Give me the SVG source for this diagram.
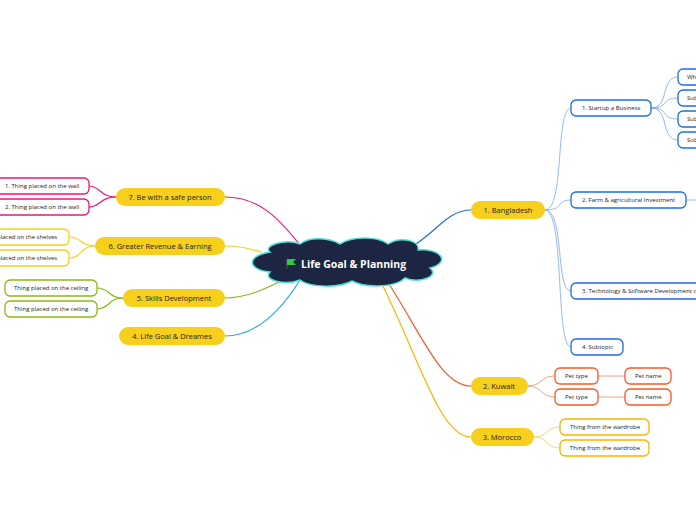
<svg xmlns="http://www.w3.org/2000/svg" width="696" height="520" viewBox="0 0 696 520">
<style>
text{font-family:"Open Sans","DejaVu Sans",sans-serif;fill:#222}
.m{fill:#f7cf1d;stroke:none}
.mt{font-size:7.5px;text-anchor:middle}
.s{fill:#fff;stroke-width:1.3}
.st{font-size:6px}
.c path{fill:none}
</style>
<rect width="696" height="520" fill="#fff"/>
<g class="c">
<g stroke="#1a6fe0" stroke-width="1.2">
<path d="M380 258 C430 250,440 210,471 210"/>
</g>
<g stroke="#7aa7ec" stroke-width="0.8">
<path d="M545 210 C565 210,555 108,571 108"/>
<path d="M545 210 C565 210,555 200,571 200"/>
<path d="M545 210 C565 210,555 291,571 291"/>
<path d="M545 210 C565 210,555 347,571 347"/>
<path d="M651 108 C670 108,660 77,678 77"/>
<path d="M651 108 C670 108,660 98,678 98"/>
<path d="M651 108 C670 108,660 119,678 119"/>
<path d="M651 108 C670 108,660 140,678 140"/>
<path d="M686 200 L696 200"/>
</g>
<g stroke="#f05a28" stroke-width="1.2"><path d="M385 278 C420 330,440 386,471 386"/></g>
<g stroke="#f08a60" stroke-width="0.8"><path d="M528 386 C542 386,540 376,555 376"/><path d="M528 386 C542 386,540 397,555 397"/><path d="M598 376 L625 376"/><path d="M598 397 L625 397"/></g>
<g stroke="#f7b500" stroke-width="1.2"><path d="M380 280 C420 360,440 437,471 437"/></g>
<g stroke="#f7c850" stroke-width="0.8"><path d="M534 437 C548 437,545 427,560 427"/><path d="M534 437 C548 437,545 448,560 448"/></g>
<g stroke="#e6197a" stroke-width="1.2"><path d="M300 245 C280 220,260 197,225 197"/><path d="M116 197 C100 197,100 186,89 186"/><path d="M116 197 C100 197,100 207,89 207"/></g>
<g stroke="#f2d21b" stroke-width="1.2"><path d="M262 252 C245 248,240 246,225 246"/><path d="M95 246 C80 246,82 237,69 237"/><path d="M95 246 C80 246,82 258,69 258"/></g>
<g stroke="#8ab81c" stroke-width="1.2"><path d="M290 276 C265 290,245 298,225 298"/><path d="M123 298 C108 298,110 288,97 288"/><path d="M123 298 C108 298,110 309,97 309"/></g>
<g stroke="#2aa6e8" stroke-width="1.2"><path d="M300 280 C275 320,250 336,225 336"/></g>
</g>
<g id="center">
<path d="M270 252 C262 246,285 238,300 244 C310 236,330 238,340 244 C352 236,378 236,388 244 C400 236,420 240,418 250 C440 248,452 262,430 268 C440 276,420 284,405 278 C395 288,365 288,352 281 C340 288,310 288,300 280 C285 286,262 280,270 272 C248 270,245 256,270 252 Z" fill="#1c2541" stroke="#4fe0d8" stroke-width="1.5"/>
<path d="M287 259 L287 269" stroke="#555" stroke-width="1"/>
<path d="M287 259 L296 259 L293 262 L296 265 L287 265 Z" fill="#2ecc40"/>
<text x="301" y="268" font-size="10.5" font-weight="bold" style="fill:#fff">Life Goal &amp; Planning</text>
</g>
<g id="bangladesh"><rect class="m" x="471" y="201" width="74" height="18" rx="9"/><text class="mt" x="508" y="213">1. Bangladesh</text></g>
<g id="startup"><rect class="s" stroke="#1a6fe0" x="571" y="100" width="80" height="16" rx="5"/><text class="st" x="582" y="110">1. Startup a Business</text></g>
<g id="w1"><rect class="s" stroke="#1a6fe0" x="678" y="69" width="40" height="16" rx="5"/><text class="st" x="687" y="79">What</text></g>
<g id="w2"><rect class="s" stroke="#1a6fe0" x="678" y="90" width="40" height="16" rx="5"/><text class="st" x="687" y="100">Subtopic</text></g>
<g id="w3"><rect class="s" stroke="#1a6fe0" x="678" y="111" width="40" height="16" rx="5"/><text class="st" x="687" y="121">Subtopic</text></g>
<g id="w4"><rect class="s" stroke="#1a6fe0" x="678" y="132" width="40" height="16" rx="5"/><text class="st" x="687" y="142">Subtopic</text></g>
<g id="farm"><rect class="s" stroke="#1a6fe0" x="571" y="192" width="115" height="16" rx="5"/><text class="st" x="582" y="202">2. Farm &amp; agricultural Investment</text></g>
<g id="tech"><rect class="s" stroke="#1a6fe0" x="571" y="283" width="140" height="16" rx="5"/><text class="st" x="582" y="293">3. Technology &amp; Software Development company</text></g>
<g id="sub4"><rect class="s" stroke="#1a6fe0" x="571" y="339" width="52" height="16" rx="5"/><text class="st" x="582" y="349">4. Subtopic</text></g>
<g id="kuwait"><rect class="m" x="471" y="377" width="57" height="18" rx="9"/><text class="mt" x="499" y="389">2. Kuwait</text></g>
<g id="pt1"><rect class="s" stroke="#f05a28" x="555" y="368" width="43" height="16" rx="5"/><text class="st" x="565" y="378">Pet type</text></g>
<g id="pt2"><rect class="s" stroke="#f05a28" x="555" y="389" width="43" height="16" rx="5"/><text class="st" x="565" y="399">Pet type</text></g>
<g id="pn1"><rect class="s" stroke="#f05a28" x="625" y="368" width="46" height="16" rx="5"/><text class="st" x="635" y="378">Pet name</text></g>
<g id="pn2"><rect class="s" stroke="#f05a28" x="625" y="389" width="46" height="16" rx="5"/><text class="st" x="635" y="399">Pet name</text></g>
<g id="morocco"><rect class="m" x="471" y="428" width="63" height="18" rx="9"/><text class="mt" x="502" y="440">3. Morocco</text></g>
<g id="wr1"><rect class="s" stroke="#f7b500" x="560" y="419" width="89" height="16" rx="5"/><text class="st" x="570" y="429">Thing from the wardrobe</text></g>
<g id="wr2"><rect class="s" stroke="#f7b500" x="560" y="440" width="89" height="16" rx="5"/><text class="st" x="570" y="450">Thing from the wardrobe</text></g>
<g id="safe"><rect class="m" x="116" y="188" width="109" height="18" rx="9"/><text class="mt" x="170" y="200">7. Be with a safe person</text></g>
<g id="wall1"><rect class="s" stroke="#e6197a" x="-10" y="178" width="99" height="16" rx="5"/><text class="st" x="5" y="188">1. Thing placed on the wall</text></g>
<g id="wall2"><rect class="s" stroke="#e6197a" x="-10" y="199" width="99" height="16" rx="5"/><text class="st" x="5" y="209">2. Thing placed on the wall</text></g>
<g id="revenue"><rect class="m" x="95" y="237" width="130" height="18" rx="9"/><text class="mt" x="160" y="249">6. Greater Revenue &amp; Earning</text></g>
<g id="sh1"><rect class="s" stroke="#f2d21b" x="-30" y="229" width="99" height="16" rx="5"/><text class="st" x="-20" y="239">Thing placed on the shelves</text></g>
<g id="sh2"><rect class="s" stroke="#f2d21b" x="-30" y="250" width="99" height="16" rx="5"/><text class="st" x="-20" y="260">Thing placed on the shelves</text></g>
<g id="skills"><rect class="m" x="123" y="289" width="102" height="18" rx="9"/><text class="mt" x="174" y="301">5. Skills Development</text></g>
<g id="ce1"><rect class="s" stroke="#8ab81c" x="5" y="280" width="92" height="16" rx="5"/><text class="st" x="14" y="290">Thing placed on the ceiling</text></g>
<g id="ce2"><rect class="s" stroke="#8ab81c" x="5" y="301" width="92" height="16" rx="5"/><text class="st" x="14" y="311">Thing placed on the ceiling</text></g>
<g id="dreams"><rect class="m" x="119" y="327" width="106" height="18" rx="9"/><text class="mt" x="172" y="339">4. Life Goal &amp; Dreames</text></g>
</svg>
